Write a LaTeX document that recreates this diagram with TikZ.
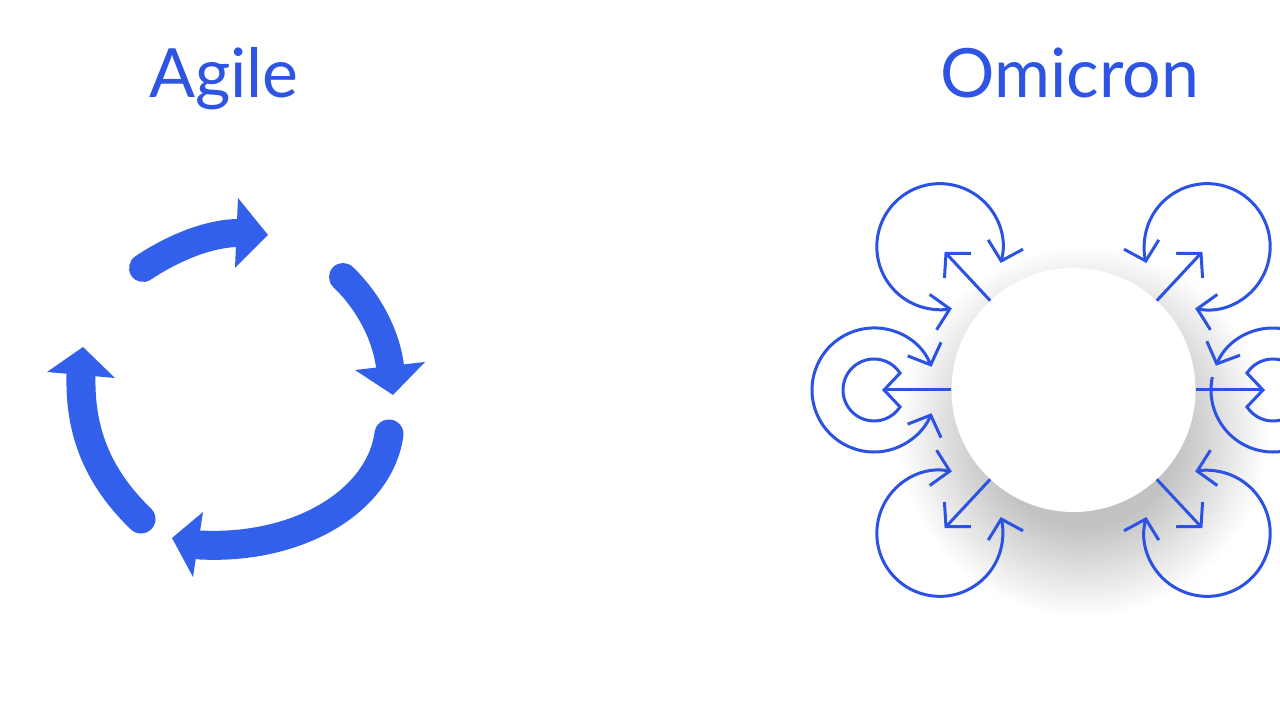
\documentclass[tikz,border=0pt]{standalone}
\usepackage{fontspec}
\setmainfont{Lato}
\usetikzlibrary{arrows.meta,calc}
\definecolor{agileblue}{RGB}{50,96,235}
\definecolor{textblue}{RGB}{45,84,226}
\definecolor{lineblue}{RGB}{43,82,226}
\begin{document}
\begin{tikzpicture}[x=1pt,y=1pt,
  >={Straight Barb[length=17pt,width=36pt]},
  titletext/.style={font=\fontsize{68}{80}\selectfont, text=textblue, inner sep=0pt, anchor=base},
  agileshaft/.style={draw=agileblue, line width=28pt, line cap=round},
  agilehead/.style={fill=agileblue},
  omline/.style={draw=lineblue, line width=3pt},
  hubstyle/.style={circle, fill=white, minimum size=244pt, inner sep=0pt}]
\useasboundingbox (0,0) rectangle (1280,720);
\fill[white] (0,0) rectangle (1280,720);
\clip (0,0) rectangle (1280,720);

% titles
\node[titletext] (agile) at (224,622) {Agile};
\node[titletext] (omicron) at (1070,622) {Omicron};

% ---------- Agile cycle ----------
% top
\draw[agileshaft] (143,452) .. controls (170,470) and (205,486) .. (237,487);
\fill[agilehead] (238,522) -- (268,485) -- (235,452) -- cycle;
% right
\draw[agileshaft] (343,443) .. controls (365,422) and (385,390) .. (390,354);
\fill[agilehead] (355,350) -- (393,325) -- (425,358) -- cycle;
% bottom
\draw[agileshaft, line width=29pt] (389,286) .. controls (380,220) and (300,170) .. (200,175);
\fill[agilehead] (203,208) -- (172,182) -- (193,143) -- cycle;
% left
\draw[agileshaft, line width=29pt] (141,201) .. controls (90,250) and (80,300) .. (81,345);
\fill[agilehead] (47,348) -- (83,373) -- (115,342) -- cycle;

% ---------- Omicron ----------
\coordinate (C) at (1073.5,330);
% soft shadow
\foreach \i in {0,...,60}
  \fill[black, opacity=0.0027] ($(C)+(10,-42)$) circle ({95+1.5*\i});
\node[hubstyle] (hub) at (C) {};

% diagonal loops
\foreach \ang in {133,227,47,-47} {
  \coordinate (lc) at ($(C)+(\ang:196)$);
  \coordinate (tipc) at ($(C)+(\ang:189)$);
  \draw[omline,<->] ($(lc)+(\ang+212:63)$) arc[start angle=\ang+212, end angle=\ang+508, radius=63];
  \draw[omline,->] (hub.\ang) -- (tipc);
}

% left loop
\coordinate (lL) at ($(C)+(180:199.5)$);
\coordinate (tipL) at ($(C)+(180:191.5)$);
\draw[omline,<->] ($(lL)+(22:62)$) arc[start angle=22, end angle=338, radius=62];
\draw[omline] ($(lL)+(35:31)$) arc[start angle=35, end angle=325, radius=31];
\draw[omline,->] (hub.180) -- (tipL);

% right loop
\coordinate (lR) at ($(C)+(0:199.5)$);
\coordinate (tipR) at ($(C)+(0:191.5)$);
\draw[omline,->] ($(lR)+(168:62)$) arc[start angle=168, end angle=517, radius=62];
\draw[omline] ($(lR)+(215:31)$) arc[start angle=215, end angle=505, radius=31];
\draw[omline,->] (hub.0) -- (tipR);
\end{tikzpicture}
\end{document}
